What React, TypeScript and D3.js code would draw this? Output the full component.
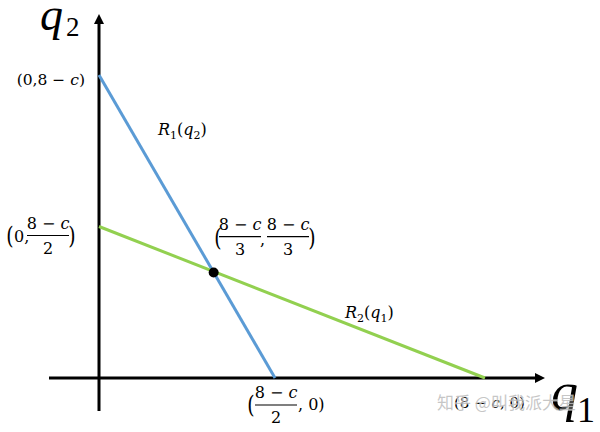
import React from 'react';
import * as d3 from 'd3';

// in units of (8 - c)
const r1Q1 = [0, 0.456];
const r1Q2 = [1, 0];
const r2Q1 = [0, 1];
const r2Q2 = [0.5, 0];
const nashPoint = [0.297, 0.348];
const curveLabels = ['R', 'R'];
const watermark = '知乎 @叫我派大星';

const W = 600;
const H = 432;
const blue = '#5b9bd5';
const green = '#92d050';
const mathFont = '"DejaVu Serif", serif';
const bigFont = '"Liberation Serif", serif';

const x = d3.scaleLinear().domain([0, 1]).range([99, 485]);
const y = d3.scaleLinear().domain([0, 1]).range([378, 75]);

const line = d3
    .line<[number, number]>()
    .x((d) => x(d[0]))
    .y((d) => y(d[1]));

// stacked fraction "8 − c" over a denominator, centred on cx
const Frac = ({ cx, cy, den }: { cx: number; cy: number; den: string }) => (
    <g fontFamily={mathFont} fontSize={16} textAnchor="middle">
        <text x={cx} y={cy - 7}>
            8 − <tspan fontStyle="italic">c</tspan>
        </text>
        <line x1={cx - 21} x2={cx + 21} y1={cy} y2={cy} stroke="#000" strokeWidth={1.2} />
        <text x={cx} y={cy + 18}>{den}</text>
    </g>
);

const Paren = ({ px, cy, ch }: { px: number; cy: number; ch: string }) => (
    <text x={px} y={cy + 8} fontFamily={mathFont} fontSize={25} textAnchor="middle" transform={`translate(${px},${cy}) scale(0.75,1) translate(${-px},${-cy})`}>
        {ch}
    </text>
);

const App: React.FC = () => {
    const r1 = r1Q1.map((v, i) => [v, r1Q2[i]] as [number, number]);
    const r2 = r2Q1.map((v, i) => [v, r2Q2[i]] as [number, number]);
    const x0 = x(0);
    const y0 = y(0);

    return (
        <svg width={W} height={H} style={{ position: 'absolute', left: 0, top: 0, background: '#fff' }}>
            {/* axes */}
            <line x1={49} x2={538} y1={y0} y2={y0} stroke="#000" strokeWidth={3} />
            <path d={`M545,${y0} L535,${y0 - 5} L535,${y0 + 5} Z`} fill="#000" />
            <line x1={x0} x2={x0} y1={411} y2={22} stroke="#000" strokeWidth={3} />
            <path d={`M${x0},14 L${x0 - 5},24 L${x0 + 5},24 Z`} fill="#000" />

            {/* reaction functions */}
            <path d={line(r1) ?? ''} fill="none" stroke={blue} strokeWidth={3} />
            <path d={line(r2) ?? ''} fill="none" stroke={green} strokeWidth={3} />
            <circle cx={x(nashPoint[0])} cy={y(nashPoint[1])} r={5} fill="#000" />

            {/* axis titles */}
            <text x={40} y={30} fontFamily={bigFont} fontSize={46} fontStyle="italic">q</text>
            <text x={66} y={36} fontFamily={bigFont} fontSize={27}>2</text>
            <text x={551} y={410} fontFamily={bigFont} fontSize={54} fontStyle="italic">q</text>
            <text x={577} y={422} fontFamily={bigFont} fontSize={36}>1</text>

            {/* intercept labels */}
            <text x={x0 - 14} y={y(1) + 10} textAnchor="end" fontFamily={mathFont} fontSize={15.5}>
                (0,8 − <tspan fontStyle="italic">c</tspan>)
            </text>
            <g>
                <Paren px={10} cy={y(0.5) + 10} ch="(" />
                <text x={14} y={y(0.5) + 15} fontFamily={mathFont} fontSize={16}>0,</text>
                <Frac cx={48} cy={y(0.5) + 9} den="2" />
                <Paren px={72} cy={y(0.5) + 10} ch=")" />
            </g>
            <g>
                <Paren px={218} cy={y(nashPoint[1]) - 35} ch="(" />
                <Frac cx={240} cy={y(nashPoint[1]) - 36} den="3" />
                <text x={260} y={y(nashPoint[1]) - 28} fontFamily={mathFont} fontSize={16}>,</text>
                <Frac cx={288} cy={y(nashPoint[1]) - 36} den="3" />
                <Paren px={312} cy={y(nashPoint[1]) - 35} ch=")" />
            </g>
            <g>
                <Paren px={251} cy={y0 + 27} ch="(" />
                <Frac cx={276} cy={y0 + 27} den="2" />
                <text x={298} y={y0 + 32} fontFamily={mathFont} fontSize={16}>, 0)</text>
            </g>
            <text x={454} y={y0 + 30} fontFamily={mathFont} fontSize={15}>
                (8 − <tspan fontStyle="italic">c</tspan>, 0)
            </text>

            {/* curve names */}
            <text x={158} y={135} fontFamily={mathFont} fontSize={16}>
                <tspan fontStyle="italic">{curveLabels[0]}</tspan>
                <tspan fontSize={11} dy={4}>1</tspan>
                <tspan dy={-4}>(</tspan>
                <tspan fontStyle="italic">q</tspan>
                <tspan fontSize={11} dy={4}>2</tspan>
                <tspan dy={-4}>)</tspan>
            </text>
            <text x={345} y={318} fontFamily={mathFont} fontSize={16}>
                <tspan fontStyle="italic">{curveLabels[1]}</tspan>
                <tspan fontSize={11} dy={4}>2</tspan>
                <tspan dy={-4}>(</tspan>
                <tspan fontStyle="italic">q</tspan>
                <tspan fontSize={11} dy={4}>1</tspan>
                <tspan dy={-4}>)</tspan>
            </text>

            {/* watermark */}
            <text
                x={437}
                y={y0 + 31}
                fontFamily='"Noto Sans CJK SC", sans-serif'
                fontSize={17}
                fill="#b4b4b4"
                fillOpacity={0.75}
                stroke="#fff"
                strokeOpacity={0.5}
                strokeWidth={1}
                paintOrder="stroke"
            >
                {watermark}
            </text>
        </svg>
    );
};

export default App;
